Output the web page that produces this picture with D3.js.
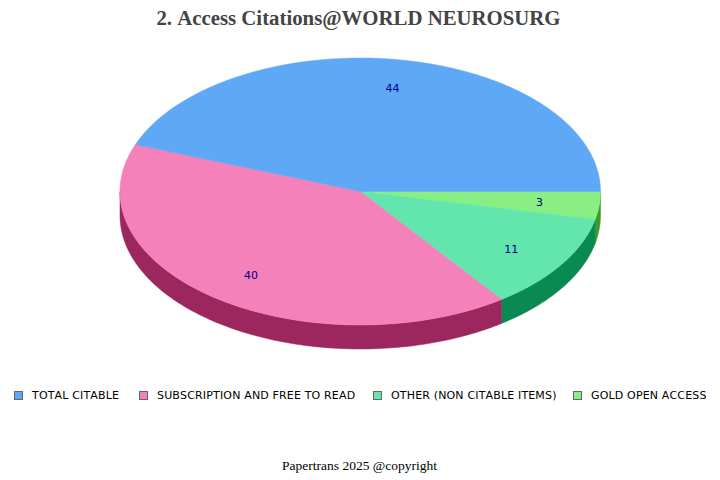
<!DOCTYPE html>
<html>
<head>
<meta charset="utf-8">
<script src="https://cdn.jsdelivr.net/npm/d3@7"></script>
<style>
  html, body { margin: 0; background: #fff; }
  svg { display: block; }
  text { font-kerning: none; }
</style>
</head>
<body>
<div id="chart"></div>
<script>
const categories = ["TOTAL CITABLE", "SUBSCRIPTION AND FREE TO READ", "OTHER (NON CITABLE ITEMS)", "GOLD OPEN ACCESS"];
const values = [44, 40, 11, 3];
// slice sizes, they differ a little from the printed labels
const sliceSizes = [43.4, 39.9, 11.4, 3.3];
const topColors = ["#5fa8f6", "#f481ba", "#62e6ad", "#8aef82"];
const sideColors = ["#2a6fb8", "#9c265e", "#0a8a52", "#3c9a2c"];
const legendX = [14, 139, 373, 573];

const width = 720, height = 480;
const depth = 24;

const svg = d3.select("#chart").append("svg")
  .attr("width", width)
  .attr("height", height);

// unit circle -> flattened ellipse
const x = d3.scaleLinear().domain([-1, 1]).range([120, 600.5]);
const y = d3.scaleLinear().domain([-1, 1]).range([58, 325]);

// angles run clockwise from east, last category first
const pie = d3.pie().sort(null).value((d) => d.size)
  .startAngle(0).endAngle(2 * Math.PI);
const rows = categories.map((name, i) => ({
  name, value: values[i], size: sliceSizes[i], top: topColors[i], side: sideColors[i],
})).reverse();
const slices = pie(rows);

const line = d3.line().x((p) => p[0]).y((p) => p[1]);
const rim = (a0, a1, r = 1, dy = 0) =>
  d3.range(0, 121).map((k) => {
    const a = a0 + ((a1 - a0) * k) / 120;
    return [x(r * Math.cos(a)), y(r * Math.sin(a)) + dy];
  });

// side walls, only the front half of the rim shows
slices.forEach((s) => {
  const a0 = s.startAngle;
  const a1 = Math.min(s.endAngle, Math.PI);
  if (a0 >= a1) return;
  svg.append("path")
    .attr("d", line(rim(a0, a1).concat(rim(a1, a0, 1, depth))) + "Z")
    .attr("fill", s.data.side)
    .attr("stroke", s.data.side)
    .attr("stroke-width", 0.5);
});

// top faces, thin stroke closes the seams between slices
svg.selectAll(".slice")
  .data(slices)
  .join("path")
  .attr("class", "slice")
  .attr("d", (s) => line([[x(0), y(0)]].concat(rim(s.startAngle, s.endAngle))) + "Z")
  .attr("fill", (s) => s.data.top)
  .attr("stroke", (s) => s.data.top)
  .attr("stroke-width", 0.5);

// value labels
svg.selectAll(".value")
  .data(slices)
  .join("text")
  .attr("class", "value")
  .attr("x", (s) => x(0.75 * Math.cos((s.startAngle + s.endAngle) / 2)))
  .attr("y", (s) => y(0.79 * Math.sin((s.startAngle + s.endAngle) / 2)))
  .attr("dy", "0.35em")
  .attr("text-anchor", "middle")
  .attr("font-family", "DejaVu Sans")
  .attr("font-size", 11)
  .attr("fill", "#000080")
  .text((s) => s.data.value);

// legend
const legend = svg.selectAll(".legend")
  .data(categories)
  .join("g")
  .attr("class", "legend")
  .attr("transform", (d, i) => `translate(${legendX[i]}, 396)`);
legend.append("rect")
  .attr("x", 0.5).attr("y", -4.5)
  .attr("width", 8).attr("height", 8)
  .attr("fill", (d, i) => topColors[i])
  .attr("stroke", "#666");
legend.append("text")
  .attr("x", 18)
  .attr("y", 3)
  .attr("font-family", "DejaVu Sans")
  .attr("font-size", 11)
  .attr("letter-spacing", 0.16)
  .attr("fill", "#000")
  .text((d) => d);

svg.append("text")
  .attr("x", 358.5).attr("y", 25)
  .attr("text-anchor", "middle")
  .attr("font-family", "Liberation Serif")
  .attr("font-weight", "bold")
  .attr("font-size", 20.8)
  .attr("fill", "#444")
  .text("2. Access Citations@WORLD NEUROSURG");

svg.append("text")
  .attr("x", 359.5).attr("y", 470)
  .attr("text-anchor", "middle")
  .attr("font-family", "Liberation Serif")
  .attr("font-size", 13.5)
  .attr("fill", "#000")
  .text("Papertrans 2025 @copyright");
</script>
</body>
</html>
